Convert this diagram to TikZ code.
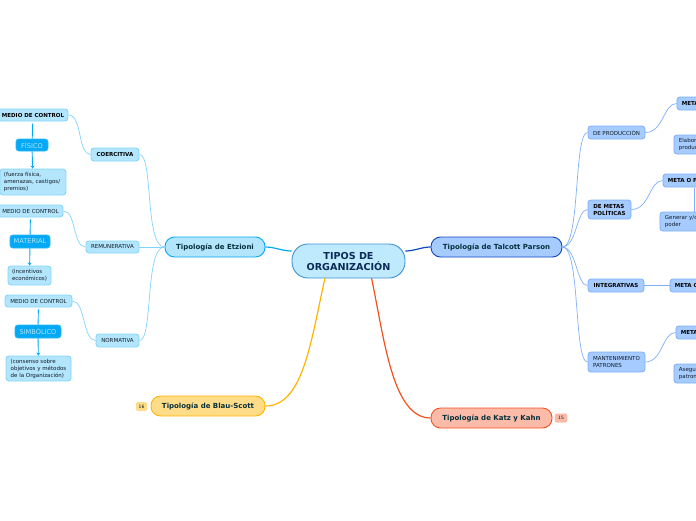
\documentclass[tikz,border=0pt]{standalone}
\usepackage{fontspec}
\setmainfont{DejaVu Sans}
\usetikzlibrary{arrows.meta}
\definecolor{rootfill}{HTML}{BFE9FD}
\definecolor{rootline}{HTML}{3F93CF}
\definecolor{rootink}{HTML}{0B2A55}
\definecolor{cyanfill}{HTML}{B3E5FC}
\definecolor{cyanline}{HTML}{03A9F4}
\definecolor{cyansoft}{HTML}{81D4FA}
\definecolor{bluefill}{HTML}{A6CBFF}
\definecolor{blueline}{HTML}{0D47C1}
\definecolor{bluesoft}{HTML}{7FB0F7}
\definecolor{goldfill}{HTML}{FFDD88}
\definecolor{goldline}{HTML}{FFB300}
\definecolor{redfill}{HTML}{FBBBA8}
\definecolor{redline}{HTML}{F4511E}
\definecolor{inkgreen}{HTML}{06303A}
\definecolor{inkdark}{HTML}{101C28}
\tikzset{
  x=1pt,y=-1pt,
  base/.style={rounded corners=3pt,line width=0.85pt,inner sep=0pt,align=left,font=\fontsize{5.5}{7}\selectfont,text=inkdark},
  cbox/.style={base,draw=cyansoft,fill=cyanfill},
  cbold/.style={cbox,font=\fontsize{5.5}{7}\selectfont\bfseries,text=black},
  cdark/.style={base,draw=cyanline!85,fill=cyanline,text=cyanfill,font=\fontsize{6.6}{8}\selectfont},
  bbox/.style={base,draw=bluesoft,fill=bluefill},
  bbold/.style={bbox,font=\fontsize{5.5}{7}\selectfont\bfseries,text=black},
  main/.style={rounded corners=9.5pt,line width=0.9pt,inner sep=0pt,font=\fontsize{7}{8}\selectfont\bfseries,text=inkgreen},
  badge/.style={rounded corners=2pt,inner sep=0pt,font=\fontsize{4.5}{5}\selectfont,text=inkdark},
  clink/.style={draw=cyansoft,line width=0.7pt},
  blink/.style={draw=bluesoft,line width=0.7pt},
  vlink/.style={draw=cyanline,line width=0.9pt},
  tiplink/.style={vlink,-{Stealth[length=3pt,width=4pt]}}
}
\begin{document}
\begin{tikzpicture}
\useasboundingbox (0,0) rectangle (696,520);
\clip (0,0) rectangle (696,520);
% root and main topics
\node[main,rounded corners=16pt,draw=rootline,fill=rootfill,text=rootink,minimum width=113pt,minimum height=34pt,align=center,font=\fontsize{9.6}{11}\selectfont\bfseries] (root) at (348.5,261) {TIPOS DE\\ORGANIZACIÓN};
\node[main,draw=cyanline,fill=cyanfill,minimum width=100pt,minimum height=20pt] (etz) at (215,247) {Tipología de Etzioni};
\node[main,draw=blueline,fill=bluefill,minimum width=131pt,minimum height=20pt] (tal) at (496.5,247) {Tipología de Talcott Parson};
\node[main,draw=goldline,fill=goldfill,minimum width=114pt,minimum height=20pt] (blau) at (208,406) {Tipología de Blau-Scott};
\node[main,draw=redline,fill=redfill,minimum width=121pt,minimum height=20pt] (katz) at (491.5,418) {Tipología de Katz y Kahn};
\node[badge,fill=goldfill,minimum width=11pt,minimum height=9pt] (b16) at (141.5,406.5) {16};
\node[badge,fill=redfill,draw=redline!45,line width=0.4pt,minimum width=12pt,minimum height=8.5pt] (b15) at (561,418) {15};
% left branch
\node[cbold,minimum width=70pt,minimum height=12pt,align=center] (m1) at (33,115) {MEDIO DE CONTROL};
\node[cdark,minimum width=32pt,minimum height=12pt] (fis) at (32,145) {FÍSICO};
\node[cbox,anchor=west,text width=58pt,inner xsep=4pt,minimum height=26pt] (fue) at (-0.5,182) {(fuerza física,\\amenazas, castigos/\\premios)};
\node[cbold,minimum width=48pt,minimum height=13pt] (coe) at (115,154.5) {COERCITIVA};
\node[cbox,minimum width=65pt,minimum height=12pt] (m2) at (30.5,211) {MEDIO DE CONTROL};
\node[cdark,minimum width=40pt,minimum height=13pt] (mat) at (30,241.5) {MATERIAL};
\node[cbox,minimum width=43pt,minimum height=19pt,align=left] (inc) at (29.5,275.5) {(incentivos\\económicos)};
\node[cbox,minimum width=53pt,minimum height=12pt] (rem) at (112.5,247) {REMUNERATIVA};
\node[cbox,minimum width=67pt,minimum height=12pt] (m3) at (38.5,301) {MEDIO DE CONTROL};
\node[cdark,minimum width=46pt,minimum height=13pt] (sim) at (38,331.5) {SIMBÓLICO};
\node[cbox,minimum width=65pt,minimum height=25pt] (con) at (38.5,368.5) {(consenso sobre\\objetivos y métodos\\de la Organización)};
\node[cbox,minimum width=43pt,minimum height=13pt] (nor) at (117.5,340.5) {NORMATIVA};
% right branch
\node[bbox,minimum width=57pt,minimum height=13pt] (pro) at (616.5,132.5) {DE PRODUCCIÓN};
\node[bbold,anchor=west,text width=40pt,inner xsep=5pt,minimum height=13pt] (me1) at (676.5,103.5) {META};
\node[bbox,anchor=west,text width=40pt,inner xsep=5pt,minimum height=19pt] (ela) at (673.5,144.5) {Elabora\\produc};
\node[bbold,minimum width=43pt,minimum height=19pt] (pol) at (609.5,209.5) {DE METAS\\POLÍTICAS};
\node[bbold,anchor=west,text width=40pt,inner xsep=5pt,minimum height=13pt] (me2) at (662.5,180.5) {META O F};
\node[bbox,anchor=west,text width=45pt,inner xsep=5pt,minimum height=19pt] (gen) at (659.5,221.5) {Generar y/o\\poder};
\node[bbold,minimum width=56pt,minimum height=13pt] (int) at (616,285.5) {INTEGRATIVAS};
\node[bbold,anchor=west,text width=40pt,inner xsep=5pt,minimum height=13pt] (me3) at (669.5,285.5) {META C};
\node[bbold,anchor=west,text width=40pt,inner xsep=5pt,minimum height=13pt] (me4) at (675.5,332.5) {META};
\node[bbox,minimum width=57pt,minimum height=20pt] (man) at (616.5,362) {MANTENIMIENTO\\PATRONES};
\node[bbox,anchor=west,text width=40pt,inner xsep=5pt,minimum height=19pt] (ase) at (673.5,373.5) {Asegu\\patron};
% main connectors
\draw[line width=1.2pt,cyanline] (root.west|-0,251) .. controls +(-9,0) and +(9,0) .. (etz.east);
\draw[line width=1.2pt,blueline] (root.east|-0,251) .. controls +(9,0) and +(-9,0) .. (tal.west);
\coordinate (rb) at (325,278);
\coordinate (rk) at (371.5,278);
\draw[line width=1.2pt,goldline] (rb) .. controls +(-14,62) and +(38,0) .. (blau.east);
\draw[line width=1.2pt,redline] (rk) .. controls +(13,62) and +(-38,0) .. (katz.west);
% left connectors
\draw[clink] (coe.east) .. controls +(14,0) and +(-20,0) .. (etz.west);
\draw[clink] (rem.east) -- (etz.west);
\draw[clink] (nor.east) .. controls +(14,0) and +(-20,0) .. (etz.west);
\draw[clink] (m1.east) .. controls +(14,0) and +(-13,0) .. (coe.west);
\draw[clink] (m2.east) .. controls +(13,0) and +(-13,0) .. (rem.west);
\draw[clink] (m3.east) .. controls +(13,0) and +(-13,0) .. (nor.west);
\draw[vlink,shorten <=2pt] (m1) -- (fis);
\draw[tiplink] (fis) -- (fue);
\draw[vlink,shorten <=2pt] (m2) -- (mat);
\draw[tiplink] (mat) -- (inc);
\draw[vlink,shorten <=2pt] (m3) -- (sim);
\draw[tiplink] (sim) -- (con);
% right connectors
\draw[blink] (tal.east) .. controls +(18,0) and +(-14,0) .. (pro.west);
\draw[blink] (tal.east) .. controls +(14,0) and +(-11,0) .. (pol.west);
\draw[blink] (tal.east) .. controls +(14,0) and +(-11,0) .. (int.west);
\draw[blink] (tal.east) .. controls +(18,0) and +(-14,0) .. (man.west);
\draw[blink] (pro.east) .. controls +(18,0) and +(-13,0) .. (me1.west);
\draw[blink] (pol.east) .. controls +(18,0) and +(-13,0) .. (me2.west);
\draw[blink,line width=1pt] (int.east) -- (me3.west);
\draw[blink] (man.east) .. controls +(17,0) and +(-13,0) .. (me4.west);
\coordinate (v1) at (694,187.5);
\coordinate (v2) at (694,212);
\draw[blink] (v1) -- (v2);
\end{tikzpicture}
\end{document}
